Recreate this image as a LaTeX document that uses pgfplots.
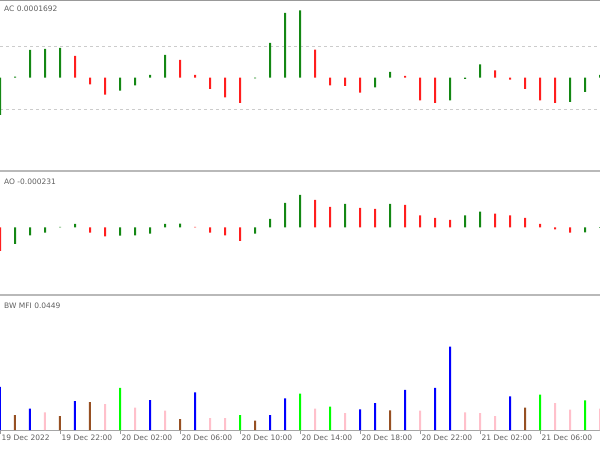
\documentclass[border=0pt]{standalone}
\usepackage{fontspec}
\setmainfont{DejaVu Sans}
\usepackage{pgfplots}
\pgfplotsset{compat=1.18}

\definecolor{acgreen}{RGB}{20,135,20}
\definecolor{acred}{RGB}{255,30,30}
\definecolor{mfilime}{RGB}{0,255,0}
\definecolor{mfibrown}{RGB}{150,80,35}
\definecolor{mfiblue}{RGB}{0,0,255}
\definecolor{mfipink}{RGB}{255,192,203}
\definecolor{txtgray}{RGB}{95,95,95}

\newcommand{\mtfont}{\fontsize{7.5}{9}\selectfont}

\pgfplotsset{
  panel/.style={
    scale only axis, width=600pt,
    xmin=0, xmax=40,
    axis line style={draw=none},
    xtick=\empty, ytick=\empty,
  },
  bars/.style={ybar, bar width=2pt, bar shift=0pt, draw=none, fill=#1},
}

\begin{document}
\begin{tikzpicture}[x=1pt,y=1pt]
\useasboundingbox (0,0) rectangle (600,450);

% frame lines
\draw[gray!80, line width=1pt] (0,449.5) -- (600,449.5);
\fill[gray!55] (0,277.5) rectangle (600,280);
\fill[gray!55] (0,153.5) rectangle (600,156);

% AC panel
\begin{axis}[panel, at={(0pt,281pt)}, anchor=south west, height=168pt,
  ymin=-91.3, ymax=76.7,
  ytick={-32,31.4}, yticklabels={}, ymajorgrids, major tick length=0pt,
  grid style={gray!40, dash pattern=on 3pt off 3pt}]
\addplot[bars=acgreen] coordinates {
  (0,-37.3) (1,1) (2,27.7) (3,28.7) (4,29.7) (8,-13) (9,-7.7) (10,2.7)
  (11,22.7) (17,-0.7) (18,34.7) (19,64.7) (20,67.3) (25,-9.7) (26,5.7)
  (30,-22.7) (31,-1.3) (32,13.3) (38,-24.3) (39,-14.3) (40,2.7)};
\addplot[bars=acred] coordinates {
  (5,21.7) (6,-6.7) (7,-17) (12,17.7) (13,2.7) (14,-11.3) (15,-19.7)
  (16,-25.3) (21,28) (22,-7.7) (23,-8.3) (24,-15) (27,1.7) (28,-22.7)
  (29,-25.3) (33,7.3) (34,-2) (35,-11.3) (36,-22.7) (37,-25.3)};
\node[anchor=base west, inner sep=0pt, font=\mtfont, text=txtgray]
  at (rel axis cs:0,1) [xshift=4pt, yshift=-11pt] {AC 0.0001692};
\end{axis}

% AO panel
\begin{axis}[panel, at={(0pt,156pt)}, anchor=south west, height=121.3pt,
  ymin=-66.7, ymax=54.6]
\addplot[bars=acgreen] coordinates {
  (1,-16.7) (2,-8) (3,-5.3) (4,0.5) (5,3.3) (8,-8.3) (9,-8) (10,-6.3)
  (11,3.3) (12,3.7) (17,-6.3) (18,8.3) (19,24.3) (20,32.3) (23,23.3)
  (26,23.3) (31,12) (32,15.7) (39,-5) (40,-0.7)};
\addplot[bars=acred] coordinates {
  (0,-23.7) (6,-5.3) (7,-9) (13,0.4) (14,-5.3) (15,-8) (16,-13.7)
  (21,27.3) (22,20.3) (24,19.3) (25,18.3) (27,22.3) (28,12) (29,9.3)
  (30,7.3) (33,13.7) (34,12) (35,9.3) (36,3.3) (37,-2) (38,-5.3)};
\node[anchor=base west, inner sep=0pt, font=\mtfont, text=txtgray]
  at (rel axis cs:0,1) [xshift=4pt, yshift=-11.8pt] {AO -0.000231};
\end{axis}

% BW MFI panel
\begin{axis}[panel, at={(0pt,20pt)}, anchor=south west, height=133pt,
  ymin=0, ymax=133,
  axis x line*=bottom, axis y line=none,
  x axis line style={-, draw=gray!70, line width=0.8pt},
  xtick={0,4,...,40},
  xticklabels={19 Dec 2022, 19 Dec 22:00, 20 Dec 02:00, 20 Dec 06:00,
    20 Dec 10:00, 20 Dec 14:00, 20 Dec 18:00, 20 Dec 22:00,
    21 Dec 02:00, 21 Dec 06:00, 21 Dec 10:00},
  tick align=outside, major tick length=4pt,
  xtick style={draw=gray!80, line width=0.8pt},
  xticklabel style={anchor=north west, inner sep=0pt, xshift=1.5pt,
    yshift=-1pt, font=\mtfont, text=txtgray}]
\addplot[bars=mfiblue] coordinates {
  (0,43) (2,21.3) (5,29) (10,30) (13,37.7) (18,15) (19,31.7) (24,20.7)
  (25,27) (27,40) (29,42) (30,83.3) (34,33.7)};
\addplot[bars=mfibrown] coordinates {
  (1,15) (4,14) (6,28) (12,11) (17,9.3) (26,19.7) (35,22.3)};
\addplot[bars=mfipink] coordinates {
  (3,17.7) (7,26) (9,22.3) (11,19.3) (14,12) (15,12) (21,21.3) (23,17)
  (28,19.3) (31,17.7) (32,17) (33,14) (37,27) (38,20.3) (40,21.3)};
\addplot[bars=mfilime] coordinates {
  (8,42) (16,15) (20,36.3) (22,23.3) (36,35.3) (39,29.7)};
\node[anchor=base west, inner sep=0pt, font=\mtfont, text=txtgray]
  at (rel axis cs:0,1) [xshift=4pt, yshift=-11.5pt] {BW MFI 0.0449};
\end{axis}
\end{tikzpicture}
\end{document}
